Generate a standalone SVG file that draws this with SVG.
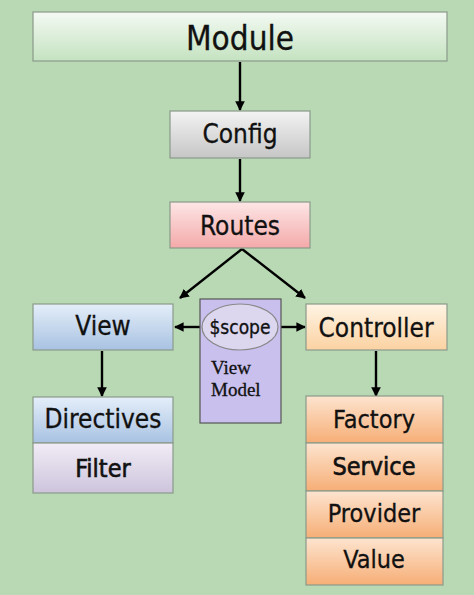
<svg xmlns="http://www.w3.org/2000/svg" width="474" height="595" viewBox="0 0 474 595">
  <style>
    .box { stroke: #8a9a8a; stroke-width: 1.2; }
    .lbl { font-family: "DejaVu Sans Condensed", "DejaVu Sans", sans-serif; font-size: 26px; fill: #111; text-anchor: middle; stroke: #111; stroke-width: 0.3; }
    .heavy { stroke-width: 0.6; }
    .serif { font-family: "Liberation Serif", serif; font-size: 19px; fill: #111; stroke: #111; stroke-width: 0.3; }
    .conn { stroke: #000; stroke-width: 2.4; fill: none; marker-end: url(#arr); }
  </style>
  <defs>
    <marker id="arr" viewBox="0 0 10 10" refX="9" refY="5" markerWidth="4" markerHeight="4" orient="auto" markerUnits="strokeWidth">
      <path d="M0,0 L10,5 L0,10 z" fill="#000"/>
    </marker>
    <linearGradient id="gModule" x1="0" y1="0" x2="0" y2="1">
      <stop offset="0" stop-color="#f4faf3"/>
      <stop offset="1" stop-color="#c4e2c0"/>
    </linearGradient>
    <linearGradient id="gConfig" x1="0" y1="0" x2="0" y2="1">
      <stop offset="0" stop-color="#f3f3f3"/>
      <stop offset="1" stop-color="#c6c6c6"/>
    </linearGradient>
    <linearGradient id="gRoutes" x1="0" y1="0" x2="0" y2="1">
      <stop offset="0" stop-color="#fde6e6"/>
      <stop offset="1" stop-color="#f4a9a9"/>
    </linearGradient>
    <linearGradient id="gView" x1="0" y1="0" x2="0" y2="1">
      <stop offset="0" stop-color="#e4eef9"/>
      <stop offset="1" stop-color="#a8c2e2"/>
    </linearGradient>
    <linearGradient id="gCtrl" x1="0" y1="0" x2="0" y2="1">
      <stop offset="0" stop-color="#fff4e4"/>
      <stop offset="1" stop-color="#fbd2a2"/>
    </linearGradient>
    <linearGradient id="gFact" x1="0" y1="0" x2="0" y2="1">
      <stop offset="0" stop-color="#fde4cf"/>
      <stop offset="1" stop-color="#f6ae76"/>
    </linearGradient>
    <linearGradient id="gFilter" x1="0" y1="0" x2="0" y2="1">
      <stop offset="0" stop-color="#f1ecf6"/>
      <stop offset="1" stop-color="#cdc4dc"/>
    </linearGradient>
  </defs>

  <rect width="474" height="595" fill="#b8d9b3"/>

  <g id="connectors">
    <line class="conn" x1="240" y1="62" x2="240" y2="110"/>
    <line class="conn" x1="240" y1="159" x2="240" y2="201"/>
    <line class="conn" x1="242" y1="249" x2="180" y2="298"/>
    <line class="conn" x1="242" y1="249" x2="305" y2="298"/>
    <line class="conn" x1="202" y1="327" x2="175" y2="327"/>
    <line class="conn" x1="278" y1="327" x2="305" y2="327"/>
    <line class="conn" x1="102" y1="351" x2="102" y2="396"/>
    <line class="conn" x1="376" y1="351" x2="376" y2="396"/>
  </g>

  <g id="module">
    <rect class="box" x="33" y="12" width="414" height="49" fill="url(#gModule)"/>
    <text class="lbl" x="240" y="50" style="font-size:33px">Module</text>
  </g>
  <g id="config">
    <rect class="box" x="170" y="111" width="140" height="47" fill="url(#gConfig)" stroke="#666"/>
    <text class="lbl" x="240" y="143">Config</text>
  </g>
  <g id="routes">
    <rect class="box" x="170" y="202" width="140" height="46" fill="url(#gRoutes)"/>
    <text class="lbl" x="240" y="235">Routes</text>
  </g>
  <g id="view">
    <rect class="box" x="33" y="304" width="140" height="46" fill="url(#gView)"/>
    <text class="lbl" x="103" y="335">View</text>
  </g>
  <g id="viewmodel">
    <rect x="200" y="299" width="81" height="124" fill="#c9c0ee" stroke="#555" stroke-width="1.2"/>
    <ellipse cx="240" cy="327" rx="38" ry="23" fill="#dcd6ee" stroke="#888" stroke-width="1.2"/>
    <text class="lbl" x="240" y="334" style="font-size:19px">$scope</text>
    <text class="serif" x="211" y="374">View</text>
    <text class="serif" x="211" y="396">Model</text>
  </g>
  <g id="controller">
    <rect class="box" x="306" y="304" width="141" height="46" fill="url(#gCtrl)"/>
    <text class="lbl" x="376" y="337">Controller</text>
  </g>
  <g id="directives">
    <rect class="box" x="33" y="397" width="140" height="46" fill="url(#gView)"/>
    <text class="lbl" x="103" y="428">Directives</text>
  </g>
  <g id="filter">
    <rect class="box" x="33" y="443" width="140" height="50" fill="url(#gFilter)"/>
    <text class="lbl heavy" x="103" y="477" style="font-size:25px">Filter</text>
  </g>
  <g id="factory">
    <rect class="box" x="306" y="396" width="137" height="47" fill="url(#gFact)"/>
    <text class="lbl" x="374" y="428" style="font-size:25px">Factory</text>
  </g>
  <g id="service">
    <rect class="box" x="306" y="443" width="137" height="48" fill="url(#gFact)"/>
    <text class="lbl heavy" x="374" y="475" style="font-size:25px">Service</text>
  </g>
  <g id="provider">
    <rect class="box" x="306" y="491" width="137" height="47" fill="url(#gFact)"/>
    <text class="lbl" x="374" y="522" style="font-size:25px">Provider</text>
  </g>
  <g id="value">
    <rect class="box" x="306" y="538" width="137" height="47" fill="url(#gFact)"/>
    <text class="lbl" x="374" y="568" style="font-size:25px">Value</text>
  </g>
</svg>
